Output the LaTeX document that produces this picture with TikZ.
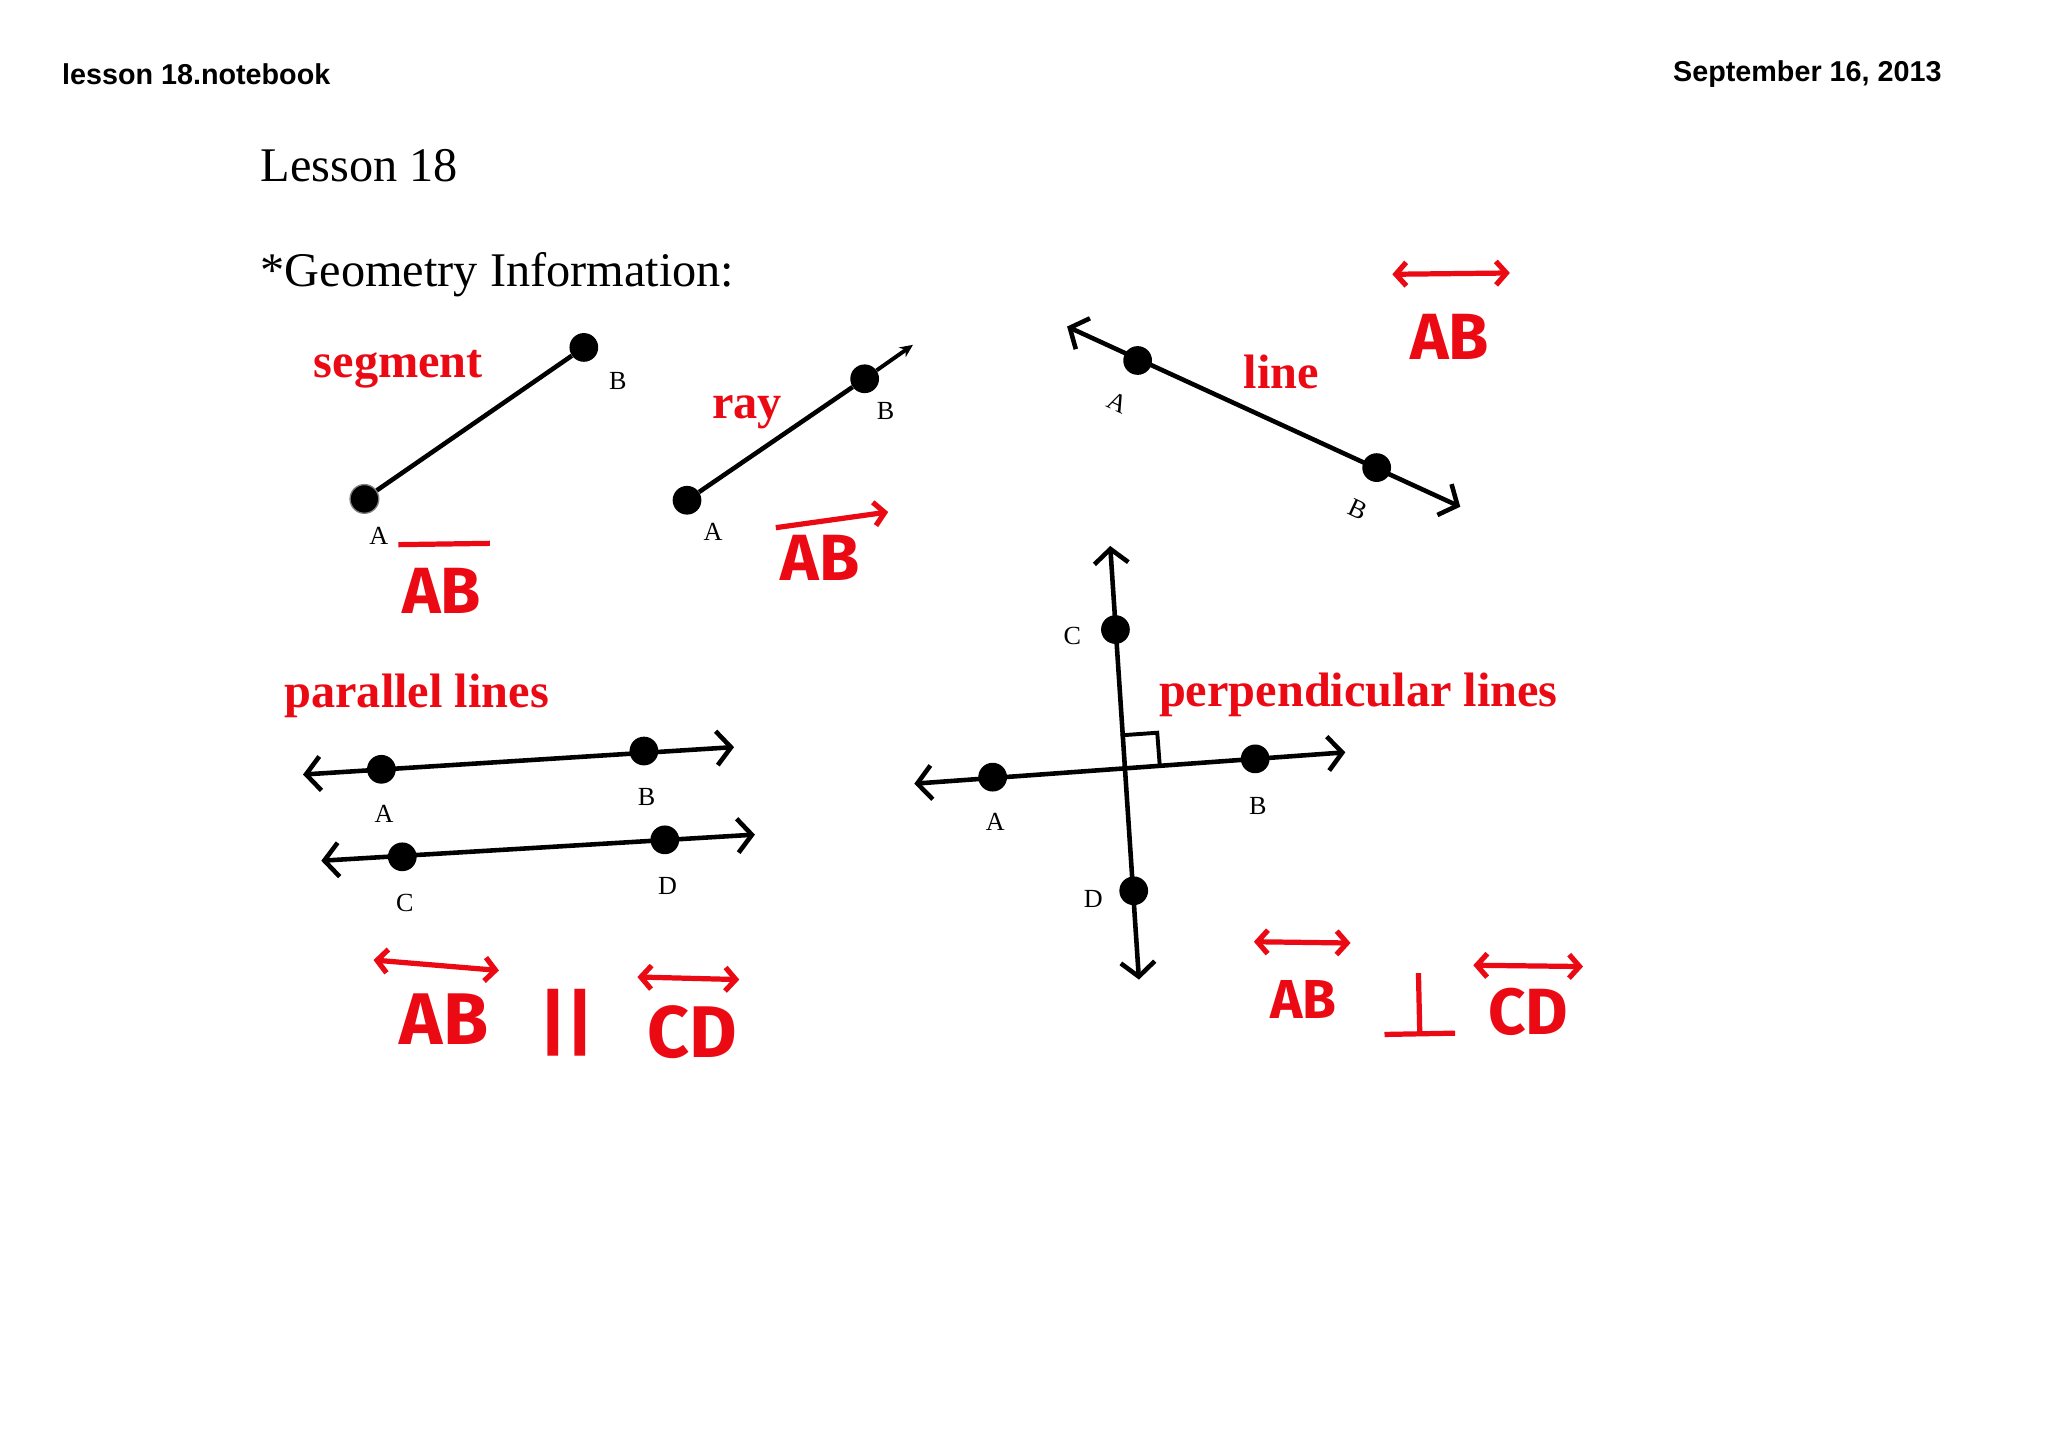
\documentclass[tikz,border=0pt]{standalone}
\usepackage{fontspec}
\setmainfont{Liberation Serif}
\newfontfamily\hdr{Liberation Sans}
\newfontfamily\hand{Fira Sans}
\usetikzlibrary{arrows.meta}
\definecolor{pen}{RGB}{235,10,20}
\tikzset{
 pt/.style={circle,fill=black,inner sep=0pt,minimum size=22pt},
 geo/.style={line width=3.5pt,black},
 lbl/.style={font=\fontsize{20}{21}\selectfont},
 redlbl/.style={text=pen,font=\fontsize{37}{38}\selectfont\bfseries},
 hw/.style={text=pen,font=\hand\bfseries\fontsize{50}{50}\selectfont},
 hwa/.style={draw=pen,line width=4pt,{Straight Barb[length=8pt,width=18pt]}-{Straight Barb[length=8pt,width=18pt]}},
 hwr/.style={draw=pen,line width=4pt,-{Straight Barb[length=8pt,width=18pt]}},
 dbl/.style={{Straight Barb[length=11pt,width=26pt]}-{Straight Barb[length=11pt,width=26pt]}},
}
\begin{document}
\begin{tikzpicture}[x=1pt,y=1pt,yscale=-1]
\useasboundingbox[fill=white] (0,0) rectangle (1568,1108);
\node[anchor=west,font=\hdr\bfseries\fontsize{22}{23}\selectfont] (h1) at (44,57) {lesson 18.notebook};
\node[anchor=east,font=\hdr\bfseries\fontsize{22}{23}\selectfont] (h2) at (1490,57) {September 16, 2013};
\node[anchor=west,font=\fontsize{37}{38}\selectfont] (t1) at (196,127) {Lesson 18};
\node[anchor=west,font=\fontsize{37}{38}\selectfont] (t2) at (196,210) {*Geometry Information:};
% segment
\node[pt,draw=gray,line width=1pt] (sA) at (279,382) {};
\node[pt] (sB) at (447,266) {};
\draw[geo] (sA) -- (sB);
\node[lbl] (sAl) at (290,410) {A};
\node[lbl] (sBl) at (473,292) {B};
\node[redlbl] (seg) at (305,283) {segment};
\node[hw] (segn) at (338,452) {AB};
\coordinate (b1) at (305,417); \coordinate (b2) at (375,416);
\draw[pen,line width=4pt] (b1) -- (b2);
% ray
\node[pt] (rA) at (526,383) {};
\node[pt] (rB) at (662,290) {};
\coordinate (rE) at (699,264);
\draw[geo] (rA) -- (rB);
\draw[line width=3pt,-{Stealth[length=10pt,width=9pt]}] (rB) -- (rE);
\node[lbl] (rAl) at (546,407) {A};
\node[lbl] (rBl) at (678,315) {B};
\node[redlbl] (ray) at (572,316) {ray};
\node[hw] (rayn) at (628,427) {AB};
\coordinate (r1) at (594,404); \coordinate (r2) at (680,392);
\draw[hwr] (r1) -- (r2);
% line
\coordinate (l1) at (817,250); \coordinate (l2) at (1118,388);
\node[pt] (lA) at (871,276) {};
\node[pt] (lB) at (1054,358) {};
\draw[geo,dbl] (l1) -- (l2);
\node[lbl,rotate=-25] (lAl) at (856,308) {A};
\node[lbl,rotate=-25] (lBl) at (1040,390) {B};
\node[redlbl] (line) at (981,285) {line};
\node[hw] (linen) at (1110,258) {AB};
\coordinate (la1) at (1066,210); \coordinate (la2) at (1156,209);
\draw[hwa] (la1) -- (la2);
% parallel
\coordinate (p1) at (232,593); \coordinate (p2) at (562,572);
\coordinate (p3) at (246,659); \coordinate (p4) at (578,639);
\draw[geo,dbl] (p1) -- (p2);
\draw[geo,dbl] (p3) -- (p4);
\node[pt] (pA) at (292,589) {};
\node[pt] (pB) at (493,575) {};
\node[pt] (pC) at (308,656) {};
\node[pt] (pD) at (509,643) {};
\node[lbl] (pAl) at (294,623) {A};
\node[lbl] (pBl) at (495,610) {B};
\node[lbl] (pCl) at (310,691) {C};
\node[lbl] (pDl) at (511,678) {D};
\node[redlbl] (par) at (319,533) {parallel lines};
\node[hw,font=\hand\bfseries\fontsize{56}{56}\selectfont] (parAB) at (340,780) {AB};
\node[hw,font=\hand\bfseries\fontsize{56}{56}\selectfont] (parbar) at (434,783) {||};
\node[hw,font=\hand\bfseries\fontsize{56}{56}\selectfont] (parCD) at (530,790) {CD};
\coordinate (pa1) at (286,735); \coordinate (pa2) at (382,743);
\coordinate (pa3) at (488,748); \coordinate (pa4) at (566,750);
\draw[hwa] (pa1) -- (pa2);
\draw[hwa] (pa3) -- (pa4);
% perpendicular
\coordinate (q1) at (700,600); \coordinate (q2) at (1030,576);
\coordinate (q3) at (850,418); \coordinate (q4) at (872,750);
\draw[geo,dbl] (q1) -- (q2);
\draw[geo,dbl] (q3) -- (q4);
\node[pt] (qA) at (760,595) {};
\node[pt] (qB) at (961,581) {};
\node[pt] (qC) at (854,482) {};
\node[pt] (qD) at (868,682) {};
\coordinate (m1) at (858,563); \coordinate (m2) at (886,561); \coordinate (m3) at (888,587);
\draw[line width=3pt] (m1) -- (m2) -- (m3);
\node[lbl] (qAl) at (762,629) {A};
\node[lbl] (qBl) at (963,617) {B};
\node[lbl] (qCl) at (821,487) {C};
\node[lbl] (qDl) at (837,688) {D};
\node[redlbl] (perp) at (1040,532) {perpendicular lines};
\node[hw,font=\hand\bfseries\fontsize{42}{42}\selectfont] (pAB) at (998,765) {AB};
\coordinate (u1) at (1060,792); \coordinate (u2) at (1114,791);
\coordinate (u3) at (1087,791); \coordinate (u4) at (1086,745);
\draw[pen,line width=4pt] (u1) -- (u2);
\draw[pen,line width=4pt] (u3) -- (u4);
\node[hw] (pCD) at (1170,775) {CD};
\coordinate (pp1) at (960,721); \coordinate (pp2) at (1034,722);
\coordinate (pp3) at (1128,739); \coordinate (pp4) at (1212,740);
\draw[hwa] (pp1) -- (pp2);
\draw[hwa] (pp3) -- (pp4);
\end{tikzpicture}
\end{document}
